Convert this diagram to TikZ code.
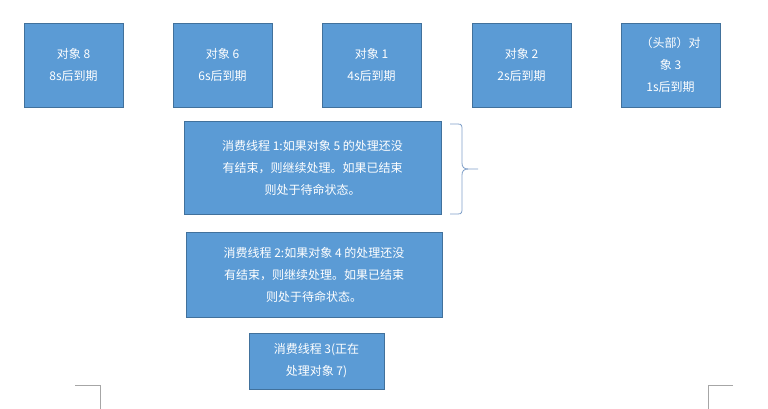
\documentclass[tikz,border=0pt]{standalone}
\usepackage{fontspec}
\setmainfont{Noto Sans CJK SC}
\begin{document}
\begin{tikzpicture}[x=1pt,y=-1pt,
  bx/.style={draw=boxline,fill=boxfill,text=white,line width=0.8pt,align=center,inner sep=0pt,
    font=\fontsize{12}{22}\selectfont},
  ]
\definecolor{boxfill}{HTML}{5B9BD5}
\definecolor{boxline}{HTML}{41719C}
\definecolor{brc}{HTML}{7F9FC8}
\definecolor{crn}{HTML}{A6A6A6}
\useasboundingbox (0,0) rectangle (768,409);
\node[bx,minimum width=99pt,minimum height=84pt] (o8) at (73.5,65) {对象 8\\8s后到期};
\node[bx,minimum width=99pt,minimum height=84pt] (o6) at (222.5,65) {对象 6\\6s后到期};
\node[bx,minimum width=99pt,minimum height=84pt] (o1) at (371.5,65) {对象 1\\4s后到期};
\node[bx,minimum width=99pt,minimum height=84pt] (o2) at (521.5,65) {对象 2\\2s后到期};
\node[bx,minimum width=99pt,minimum height=84pt] (o3) at (670.5,65) {（头部）对\\象 3\\1s后到期};
\node[bx,minimum width=257pt,minimum height=93pt] (c1) at (312.5,167.5) {消费线程 1:如果对象 5 的处理还没\\有结束，则继续处理。如果已结束\\则处于待命状态。};
\node[bx,minimum width=256pt,minimum height=85pt] (c2) at (314,274.5) {消费线程 2:如果对象 4 的处理还没\\有结束，则继续处理。如果已结束\\则处于待命状态。};
\node[bx,minimum width=135pt,minimum height=56pt] (c3) at (316.5,361) {消费线程 3(正在\\处理对象 7)};
\coordinate (bt) at (450,124);
\coordinate (bb) at (450,214);
\coordinate (tip) at (478,169);
\draw[brc,line width=0.8pt] (bt) -- ++(8,0) .. controls +(4,0) and +(0,-4) .. ++(4,6) -- (462,163)
  .. controls (462,167) and (464,169) .. (468,169) -- (tip);
\draw[brc,line width=0.8pt] (bb) -- ++(8,0) .. controls +(4,0) and +(0,4) .. ++(4,-6) -- (462,175)
  .. controls (462,171) and (464,169) .. (468,169);
\coordinate (l1) at (75,385); \coordinate (l2) at (100,385); \coordinate (l3) at (100,409);
\coordinate (r1) at (733,385); \coordinate (r2) at (708,385); \coordinate (r3) at (708,409);
\draw[crn,line width=0.6pt] (l1) -- (l2) -- (l3);
\draw[crn,line width=0.6pt] (r1) -- (r2) -- (r3);
\end{tikzpicture}
\end{document}
